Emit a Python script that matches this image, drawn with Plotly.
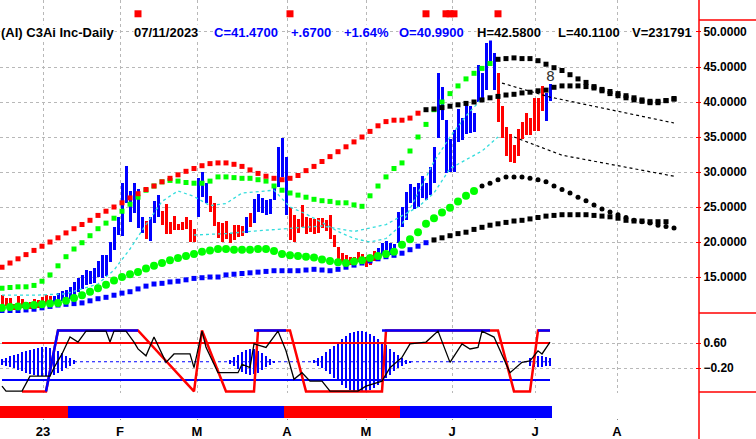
import plotly.graph_objects as go
from plotly.subplots import make_subplots

# daily bars (index 0 = mid Dec 2022, last = 07/11/2023)
highs = [12.5,12.0,12.0,11.2,12.3,11.8,11.5,11.5,11.9,11.7,12.1,12.5,12.3,12.3,12.7,13.0,13.2,13.6,14.3,14.8,
         15.3,16.0,15.8,16.3,17.3,18.1,18.2,20.0,22.1,23.6,28.4,30.9,27.3,28.4,27.6,23.6,23.0,23.6,25.9,26.7,
         24.4,25.4,22.9,23.7,22.6,22.9,23.6,23.2,21.9,29.1,30.0,28.4,26.6,25.6,22.9,22.7,23.0,21.3,22.4,22.4,
         22.3,23.6,24.1,26.1,26.9,26.3,26.0,26.1,27.9,33.6,34.9,32.1,25.0,23.9,23.3,25.3,23.6,23.4,23.3,23.4,
         23.4,23.1,23.9,21.0,19.3,18.4,18.1,17.9,17.9,18.6,18.3,17.9,17.9,18.7,19.1,19.9,20.1,19.9,19.7,24.3,
         25.0,27.1,28.3,27.9,28.4,29.4,28.4,30.7,33.6,44.1,42.1,37.4,34.7,36.0,39.0,37.7,39.6,39.4,38.4,45.3,
         44.1,48.4,48.9,47.0,44.1,39.4,36.4,35.4,33.9,36.1,37.1,38.4,37.7,40.6,40.6,42.3,41.3,42.58]
lows = [11.0,10.8,11.0,10.3,10.8,10.6,10.4,10.4,10.6,10.6,10.8,11.2,11.0,11.2,11.4,11.6,11.5,11.9,12.4,12.8,
        13.3,13.8,14.0,14.2,15.0,14.9,15.2,17.1,18.9,21.0,20.9,25.6,22.9,24.1,22.0,21.3,20.4,20.1,22.7,23.6,
        22.4,21.1,21.1,21.7,21.7,21.7,21.9,20.0,20.0,23.6,26.4,25.6,24.3,22.3,20.6,20.0,20.4,19.9,20.3,20.7,
        20.9,21.3,22.1,22.7,24.3,24.1,23.9,24.0,26.0,27.9,29.3,23.9,20.3,20.0,21.3,22.1,21.1,21.4,21.1,21.3,
        22.0,21.6,20.4,19.3,17.0,17.1,16.7,16.7,16.4,17.1,16.7,16.4,16.7,17.3,17.6,18.1,18.9,18.1,18.6,19.9,
        22.1,23.1,25.6,24.7,25.0,26.3,26.0,26.7,28.4,34.9,37.4,29.9,30.0,30.0,34.3,34.6,35.4,35.6,35.7,40.0,
        40.3,41.7,45.6,41.7,37.1,34.9,32.3,31.4,31.3,32.3,34.7,35.3,35.3,35.9,35.9,38.7,37.3,40.11]
bar_dir = "r"*13 + "b"*23 + "r" + "b"*3 + "r"*9 + "b"*3 + "r"*9 + "b" + "r" + "b"*9 + "r"*22 + "b"*30 + "r"*12 + "b"*2

# band dots, one value every 2 bars; after *_proj index the dots turn black (projection)
red_band = [16.4,17.0,17.6,18.2,18.8,19.4,20.0,20.6,21.3,21.9,22.5,23.1,23.8,24.4,25.0,25.6,26.3,26.9,27.5,28.0,
            28.6,29.1,29.6,30.1,30.5,30.9,31.2,31.3,31.3,31.1,30.8,30.3,29.8,29.4,29.1,28.9,29.1,29.5,30.2,30.8,
            31.5,32.2,32.9,33.6,34.3,35.0,35.8,36.6,37.2,37.4,37.4,37.7,38.4,
            38.9,39.0,39.2,39.4,39.6,39.8,40.0,40.3,40.6,40.8,41.0,41.1,41.3,41.4,41.6,41.7,
            42.1,42.3,42.3,42.3,42.2,42.0,41.8,41.5,41.2,40.9,40.6,40.3,40.1,40.1,40.2,40.4]
red_proj = 106
green_up = [13.4,13.5,13.6,13.6,13.8,14.4,15.3,16.6,17.9,19.0,19.9,20.9,21.9,22.7,23.4,24.4,25.4,26.4,27.4,28.0,
            28.6,28.8,28.7,28.5,28.4,28.4,28.7,29.3,29.3,29.2,29.1,29.1,28.9,28.7,28.0,27.4,27.0,26.7,26.4,26.1,
            25.9,25.8,25.6,25.6,25.3,25.1,26.6,28.0,29.3,30.5,31.3,33.0,35.0,36.8,38.9,40.0,41.2,42.3,43.3,44.1,
            44.8,45.5,
            46.1,46.2,46.3,46.2,46.2,45.9,45.4,44.9,44.5,43.9,43.3,42.8,42.2,41.6,41.2,40.9,40.6,40.3,40.1,39.9,
            39.9,40.2,40.5]
green_up_proj = 124
green_lo = [10.6,10.7,10.8,10.9,11.0,11.1,11.2,11.3,11.6,12.0,12.4,12.9,13.4,13.9,14.5,15.0,15.4,15.7,16.2,16.6,
            17.0,17.4,17.7,18.0,18.3,18.6,18.8,19.0,19.0,18.9,18.9,18.9,19.0,19.0,18.7,18.3,18.1,18.0,17.9,17.8,
            17.5,17.3,17.1,17.0,17.2,17.4,17.7,18.0,18.3,18.6,19.6,20.4,21.4,22.6,23.4,24.2,24.9,25.8,26.6,27.3,
            28.0,28.4,28.9,29.3,29.3,29.3,29.1,28.9,28.6,28.0,27.5,27.0,26.4,25.9,25.3,24.7,24.3,23.9,23.5,23.1,
            22.9,22.7,22.4,22.2,22.0]
green_lo_proj = 120
blue_lo = [10.0,10.1,10.2,10.3,10.4,10.6,10.8,11.0,11.1,11.2,11.3,11.6,11.9,12.1,12.4,12.7,12.9,13.3,13.7,14.0,
           14.1,14.3,14.4,14.6,14.8,14.9,15.0,15.0,15.3,15.4,15.5,15.6,15.7,15.8,15.9,15.9,15.9,15.9,16.0,16.1,
           16.0,15.9,16.1,16.4,16.7,17.0,17.3,17.6,17.9,18.1,18.4,18.9,19.4,19.9,
           20.3,20.6,20.9,21.2,21.4,21.8,22.1,22.4,22.6,22.8,23.0,23.1,23.3,23.5,23.7,23.8,23.9,23.9,23.9,23.9,
           23.8,23.7,23.6,23.4,23.1,23.0,23.0,22.9,22.9,22.9]
blue_lo_proj = 108

cyan1_x = [0,8,16,24,28,32,36,40,44,48,52,56,60,64,68,72,76,80,84,88,92,96,100,104,108,112,116,120]
cyan1_y = [12.4,12.4,12.6,14.0,16.0,19.0,22.5,25.8,27.3,26.5,25.2,25.5,27.0,27.2,27.4,25.0,24.0,22.8,21.5,20.5,
           20.0,20.5,22.5,27.0,31.5,35.0,38.0,40.5]
cyan2_x = [48,56,64,72,80,88,96,104,108,112,120,124]
cyan2_y = [21.0,21.2,21.6,22.0,22.3,21.5,22.5,25.0,27.0,30.5,33.0,35.0]
proj1_x, proj1_y = [125,137,168], [42.7,40.7,37.0]
proj2_x, proj2_y = [128,140,168], [35.0,32.4,29.4]

signal_idx = [34,72,106,111,112,113,124]

# oscillator
osc_x = [0,1,5,7,12,13,15,17,19,21,26,27,28,31,33,34,36,38,41,43,47,48,50,51,54,59,60,62,63,66,69,71,73,75,77,
         80,82,89,91,95,97,100,102,106,109,112,115,117,119,120,123,127,130,132,134,135,137]
osc_y = [-0.78,-0.94,-0.94,-0.46,-0.46,-0.19,0.25,0.79,0.63,0.98,0.98,0.63,0.98,0.98,0.63,0.41,0.19,0.79,-0.02,0.25,
         0.25,-0.19,0.98,0.46,-0.35,-0.35,-0.08,-0.19,0.57,0.46,0.98,0.35,-0.56,-0.35,-0.62,-0.62,-0.94,-0.94,-0.78,
         -0.62,-0.19,0.14,0.57,0.63,0.98,-0.02,0.57,0.41,0.46,0.98,0.79,-0.35,-0.02,0.03,0.35,0.25,0.63]
state_x = [5,11,14,34,48,50,56,63,64,72,76,95,96,124,128,132,134,137]
state_y = [-0.95,-0.95,1.0,1.0,-0.95,1.0,-0.95,-0.95,1.0,1.0,-0.95,-0.95,1.0,1.0,-0.95,-0.95,1.0,1.0]
blue_steps = [([11,14,34],[-0.95,1.0,1.0]), ([63,71],[1.0,1.0]), ([95,122],[1.0,1.0]), ([134,137],[1.0,1.0])]
hist = {}
for start, vals in [(0,[0.1,0.13,0.17,0.21,0.26,0.3,0.35,0.39,0.42,0.44,0.46,0.46,0.45,0.42,0.36,0.28,0.2,0.12,0.06]),
                    (57,[0.06,0.14,0.23,0.32,0.38,0.41,0.4,0.35,0.27,0.18,0.1,0.04]),
                    (78,[0.05,0.12,0.2,0.3,0.4,0.52,0.63,0.74,0.84,0.91,0.96,0.98,0.98,0.95,0.9,0.83,0.74,0.64,0.53,
                         0.42,0.31,0.21,0.13,0.07,0.03]),
                    (132,[0.12,0.16,0.18,0.17,0.15,0.12])]:
    for k, v in enumerate(vals):
        hist[start+k] = v
regime = "r"*17 + "b"*54 + "r"*29 + "b"*38

month_pos = [10.25,29.5,48.75,71.25,91,112.5,133.25,153.75]
month_lbl = ["23","F","M","A","M","J","J","A"]

RED, BLUE, GREEN, BLACK = "#ff0000", "#0000ff", "#00ff00", "#000000"
col = {"r": RED, "b": BLUE}

fig = make_subplots(rows=3, cols=1, shared_xaxes=True)

n = len(highs)
fig.add_trace(go.Bar(x=list(range(n)), y=[h-l for h, l in zip(highs, lows)], base=lows, width=0.75,
                     marker=dict(color=[col[c] for c in bar_dir], line_width=0)), row=1, col=1)

fig.add_trace(go.Scatter(x=cyan1_x, y=cyan1_y, mode="lines", line=dict(color="#33dddd", width=1.3, dash="dot")), row=1, col=1)
fig.add_trace(go.Scatter(x=cyan2_x, y=cyan2_y, mode="lines", line=dict(color="#33dddd", width=1.3, dash="dot")), row=1, col=1)
fig.add_trace(go.Scatter(x=proj1_x, y=proj1_y, mode="lines", line=dict(color=BLACK, width=1.2, dash="dot")), row=1, col=1)
fig.add_trace(go.Scatter(x=proj2_x, y=proj2_y, mode="lines", line=dict(color=BLACK, width=1.2, dash="dot")), row=1, col=1)

for vals, split, c, sym, size in [(blue_lo, blue_lo_proj, BLUE, "square", 5),
                                  (green_lo, green_lo_proj, GREEN, "circle", 8),
                                  (green_up, green_up_proj, GREEN, "square", 5),
                                  (red_band, red_proj, RED, "square", 5)]:
    xs = [2*k for k in range(len(vals))]
    fig.add_trace(go.Scatter(x=xs, y=vals, mode="markers",
                             marker=dict(symbol=sym, size=[size if x < split else 5 for x in xs], opacity=1,
                                         line_width=0, color=[c if x < split else BLACK for x in xs])), row=1, col=1)

fig.add_trace(go.Scatter(x=signal_idx, y=[52.6]*len(signal_idx), mode="markers",
                         marker=dict(symbol="square", size=7, color=RED, line_width=0)), row=1, col=1)

# oscillator panel
hx = sorted(hist)
fig.add_trace(go.Bar(x=hx, y=[2*hist[k] for k in hx], base=[-hist[k] for k in hx], width=0.4,
                     marker=dict(color=BLUE, line_width=0)), row=2, col=1)
fig.add_trace(go.Scatter(x=[0, n-1], y=[0, 0], mode="lines", line=dict(color=BLUE, width=1, dash="dot")), row=2, col=1)
fig.add_trace(go.Scatter(x=[0, n-1], y=[0.6, 0.6], mode="lines", line=dict(color=RED, width=2)), row=2, col=1)
fig.add_trace(go.Scatter(x=[0, n-1], y=[-0.58, -0.58], mode="lines", line=dict(color=BLUE, width=2)), row=2, col=1)
fig.add_trace(go.Scatter(x=state_x, y=state_y, mode="lines", line=dict(color=RED, width=2.5)), row=2, col=1)
for sx, sy in blue_steps:
    fig.add_trace(go.Scatter(x=sx, y=sy, mode="lines", line=dict(color=BLUE, width=2.5)), row=2, col=1)
fig.add_trace(go.Scatter(x=osc_x, y=osc_y, mode="lines", line=dict(color=BLACK, width=1.3)), row=2, col=1)

# regime strip
fig.add_trace(go.Bar(x=list(range(len(regime))), y=[1]*len(regime), width=1.02,
                     marker=dict(color=[col[c] for c in regime], line_width=0)), row=3, col=1)

fig.add_annotation(x=n-1, y=43.7, text="8", showarrow=False, font=dict(family="DejaVu Sans", size=14, color="#333333"),
                   xref="x", yref="y")

title_parts = [(0, "(AI) C3Ai Inc-Daily", BLACK), (133, "07/11/2023", BLACK), (213, "C=41.4700", BLUE),
               (290, "+.6700", BLUE), (343, "+1.64%", BLUE), (398, "O=40.9900", BLUE),
               (476, "H=42.5800", BLACK), (557, "L=40.1100", BLACK), (631, "V=231791", BLACK)]
for px, txt, c in title_parts:
    fig.add_annotation(x=px/756, y=1-32/439, xref="paper", yref="paper", text=txt, showarrow=False,
                       xanchor="left", yanchor="middle", bgcolor="white", borderpad=0,
                       font=dict(family="Liberation Sans", size=13, color=c, weight="bold"))

xr = [-0.5, 173.25]
grid = dict(showgrid=True, gridcolor="#b8b8b8", griddash="dot", gridwidth=1)
for ax in ["xaxis", "xaxis2", "xaxis3"]:
    fig.layout[ax].update(range=xr, domain=[0, 695/756], tickvals=month_pos, ticktext=month_lbl,
                          showticklabels=False, zeroline=False, **grid)
fig.layout.xaxis3.update(showgrid=False, showticklabels=True, ticks="outside", ticklen=1, tickcolor="#888888",
                         tickfont=dict(family="Liberation Sans", size=13, color=BLACK, weight="bold"))
tick_font = dict(family="Liberation Sans", size=12, color=BLACK, weight="bold")
fig.update_layout(
    yaxis=dict(domain=[1-313/439, 1], range=[9.86, 54.57], side="right", tickvals=[15,20,25,30,35,40,45,50],
               tickformat=".4f", ticks="outside", ticklen=5, tickcolor=RED, zeroline=False,
               tickfont=tick_font, **grid),
    yaxis2=dict(domain=[1-393/439, 1-313/439], range=[-1.0, 1.56], side="right", tickvals=[0.6, -0.2],
                tickformat=".2f", ticks="outside", ticklen=5, tickcolor=RED, zeroline=False,
                tickfont=tick_font, **grid),
    yaxis3=dict(domain=[1-418/439, 1-406/439], range=[0, 1], visible=False),
    width=756, height=439, margin=dict(l=0, r=0, t=0, b=0, autoexpand=False), showlegend=False,
    plot_bgcolor="white", paper_bgcolor="white", barmode="overlay", bargap=0,
    shapes=[dict(type="line", xref="paper", yref="paper", x0=699/756, x1=699/756, y0=0, y1=1,
                 line=dict(color=RED, width=1.5)),
            dict(type="line", xref="paper", yref="paper", x0=699/756, x1=1, y0=1-313/439, y1=1-313/439,
                 line=dict(color=RED, width=1.5)),
            dict(type="line", xref="paper", yref="paper", x0=699/756, x1=1, y0=1-392/439, y1=1-392/439,
                 line=dict(color=RED, width=1.5)),
            dict(type="line", xref="paper", yref="paper", x0=699/756, x1=1, y0=1-20/439, y1=1-20/439,
                 line=dict(color=RED, width=1.5))],
)

fig.write_html("out.html", config={"displayModeBar": False},
               post_script="document.body.style.margin='0';document.body.style.overflow='hidden';")
